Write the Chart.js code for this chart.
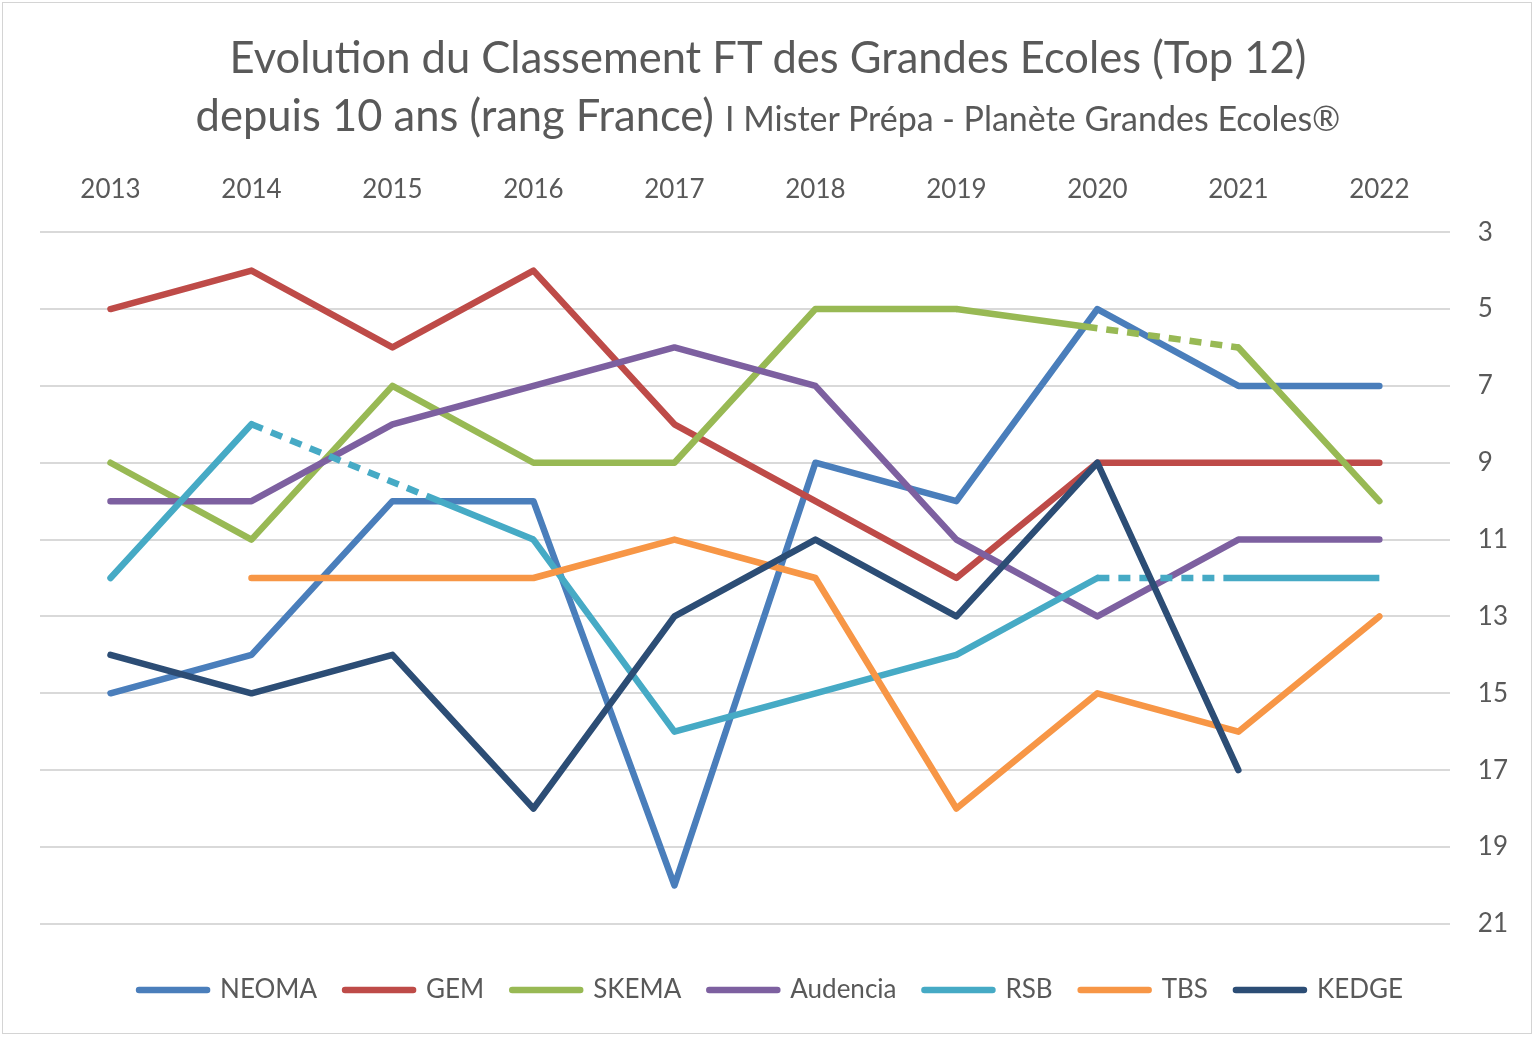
<!DOCTYPE html>
<html>
<head>
<meta charset="utf-8">
<script src="https://cdn.jsdelivr.net/npm/chart.js@4.4.0/dist/chart.umd.min.js"></script>
<style>
  html, body { margin: 0; padding: 0; background: #fff; }
  #wrap { position: relative; width: 1536px; height: 1039px; }
  #frame { position: absolute; left: 2px; top: 2px; width: 1528px; height: 1030px; border: 1px solid #d4d4d4; pointer-events: none; }
  #title { position: absolute; left: 0; top: 27px; width: 1536px; text-align: center; font-family: Lato, sans-serif; color: #595959; font-size: 43.5px; line-height: 58px; }
  #title .small { font-size: 34px; }
  canvas { position: absolute; left: 0; top: 0; }
</style>
</head>
<body>
<div id="wrap">
  <canvas id="rankChart" width="1536" height="1039"></canvas>
  <div id="title">
    <div>Evolution du Classement FT des Grandes Ecoles (Top 12)</div>
    <div>depuis 10 ans (rang France) <span class="small">I Mister Prépa - Planète Grandes Ecoles®</span></div>
  </div>
  <div id="frame"></div>
</div>
<script>
const years = ['2013', '2014', '2015', '2016', '2017', '2018', '2019', '2020', '2021', '2022'];
const neoma    = [15, 14, 10, 10, 20, 9, 10, 5, 7, 7];
const gem      = [5, 4, 6, 4, 8, 10, 12, 9, 9, 9];
const skema    = [9, 11, 7, 9, 9, 5, 5, null, 6, 10];
const audencia = [10, 10, 8, 7, 6, 7, 11, 13, 11, 11];
const rsb      = [12, 8, null, 11, 16, 15, 14, 12, null, 12];
const tbs      = [null, 12, 12, 12, 11, 12, 18, 15, 16, 13];
const kedge    = [14, 15, 14, 18, 13, 11, 13, 9, 17, null];
const rankTicks = [3, 5, 7, 9, 11, 13, 15, 17, 19, 21];

// dashed part of a line that jumps over a missing year (fractions of the segment)
function dashPattern(len, from, to) {
  const dash = 12, gap = 9;
  const out = [];
  let pos = 0;
  if (from > 0) { out.push(from * len, gap); pos = from * len + gap; }
  while (pos + dash < to * len) { out.push(dash, gap); pos += dash + gap; }
  if (to < 1) out.push(len, 0);
  else out.push(dash, len);
  return out;
}

// spec is keyed by the index of the missing year
function gapSegment(spec) {
  return {
    borderDash: ctx => {
      const s = spec[ctx.p0DataIndex];
      if (!s) return undefined;
      const pts = ctx.chart.getDatasetMeta(ctx.datasetIndex).data;
      let a = ctx.p0DataIndex;
      while (a > 0 && pts[a].skip) a--;
      const len = Math.hypot(ctx.p1.x - pts[a].x, ctx.p1.y - pts[a].y);
      return dashPattern(len, s[0], s[1]);
    },
    borderCapStyle: ctx => (spec[ctx.p0DataIndex] ? 'butt' : undefined)
  };
}

function series(label, data, color, gaps) {
  return {
    label: label,
    data: data,
    borderColor: color,
    backgroundColor: color,
    borderWidth: 6.5,
    borderCapStyle: 'round',
    borderJoinStyle: 'round',
    pointRadius: 0,
    pointHoverRadius: 0,
    tension: 0,
    spanGaps: true,
    segment: gapSegment(gaps || {})
  };
}

const datasets = [
  series('NEOMA', neoma, '#4a7ebb'),
  series('GEM', gem, '#be4b48'),
  series('SKEMA', skema, '#98b954', { 7: [0.5, 1] }),
  series('Audencia', audencia, '#7d60a0'),
  series('RSB', rsb, '#46aac5', { 2: [0, 0.6], 8: [0, 0.45] }),
  series('TBS', tbs, '#f79646'),
  series('KEDGE', kedge, '#2c4d75')
];
// later series drawn on top, like the original
datasets.forEach((d, i) => { d.order = datasets.length - i; });

// legend sits a bit left of the plot centre in the original
const legendShift = {
  id: 'legendShift',
  afterLayout(chart) {
    chart.legend.left -= 17;
    chart.legend.right -= 17;
  }
};

const ctx = document.getElementById('rankChart').getContext('2d');
new Chart(ctx, {
  type: 'line',
  data: { labels: years, datasets: datasets },
  plugins: [legendShift],
  options: {
    responsive: false,
    animation: false,
    layout: { padding: { top: 155, left: 40, right: 0, bottom: 26 } },
    plugins: {
      tooltip: { enabled: false },
      legend: {
        position: 'bottom',
        // empty title only used as spacing above the items
        title: { display: true, text: '', font: { size: 1 }, padding: { top: 24, bottom: 0 } },
        labels: {
          font: { family: 'Lato', size: 26 },
          color: '#595959',
          usePointStyle: true,
          pointStyle: 'line',
          pointStyleWidth: 68,
          boxHeight: 26,
          padding: 28,
          sort: (a, b) => a.datasetIndex - b.datasetIndex,
          generateLabels: chart => Chart.defaults.plugins.legend.labels.generateLabels(chart)
            .map(l => Object.assign(l, { lineCap: 'round', lineDash: [] }))
        }
      }
    },
    scales: {
      x: {
        position: 'top',
        offset: true,
        grid: { display: false },
        border: { display: false },
        ticks: { font: { family: 'Lato', size: 26 }, color: '#595959', padding: 19 }
      },
      y: {
        position: 'right',
        reverse: true,
        min: 3,
        max: 21,
        afterBuildTicks: axis => { axis.ticks = rankTicks.map(v => ({ value: v })); },
        grid: { color: '#d9d9d9', lineWidth: 2, drawTicks: false },
        border: { display: false },
        ticks: { font: { family: 'Lato', size: 26 }, color: '#595959', padding: 28 }
      }
    }
  }
});
</script>
</body>
</html>
